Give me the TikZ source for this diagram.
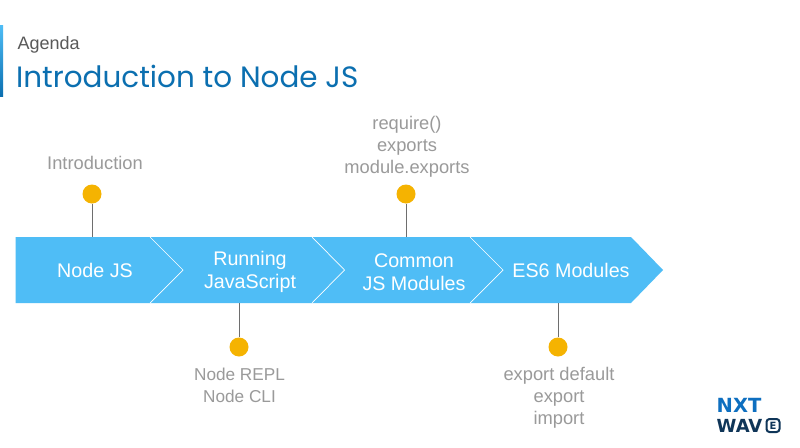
\documentclass[tikz,border=0pt]{standalone}
\usepackage{fontspec}
\setmainfont{Liberation Sans}
\newfontfamily\titlefont{Poppins}
\newfontfamily\logofont{DejaVu Sans}
\definecolor{barblue}{HTML}{4FBDF6}
\definecolor{pin}{HTML}{F5B301}
\definecolor{stem}{HTML}{6E6E6E}
\definecolor{greytext}{HTML}{9A9A9A}
\definecolor{titleblue}{HTML}{0B6FB0}
\definecolor{navy}{HTML}{0F3558}
\definecolor{logoblue}{HTML}{0E6FC0}
\tikzset{
  x=1pt,y=-1pt,
  pindot/.style={circle,fill=pin,minimum size=19pt,inner sep=0pt},
  stemline/.style={draw=stem,line width=1pt},
  steplabel/.style={text=white,font=\fontsize{19.7}{23.5}\selectfont,align=center,inner sep=0pt},
  notelabel/.style={text=greytext,font=\fontsize{18.3}{22}\selectfont,align=center,inner sep=0pt},
  chev/.style={draw=white,line width=0.7pt},
}
\begin{document}
\begin{tikzpicture}
\useasboundingbox (0,0) rectangle (800,447);
\fill[white] (0,0) rectangle (800,447);
\shade[top color=barblue,bottom color=titleblue] (0,25) rectangle (3,96);
\node[anchor=base west,inner sep=0pt,text=black!65,font=\fontsize{18}{20}\selectfont] (agenda) at (17.5,49) {Agenda};
\node[anchor=base west,inner sep=0pt,text=titleblue,font=\titlefont\fontsize{29.4}{32}\selectfont] (title) at (16,87) {Introduction to Node JS};
% arrow bar
\fill[barblue] (15.5,237) -- (631,237) -- (663,270) -- (631,303) -- (15.5,303) -- cycle;
\draw[chev] (150,237) -- (183,270) -- (150,303);
\draw[chev] (312,237) -- (344.5,270) -- (312,303);
\draw[chev] (470,237) -- (503,270) -- (470,303);
\coordinate (t1) at (92,237);
\coordinate (b2) at (239,303);
\coordinate (t3) at (406,237);
\coordinate (b4) at (558,303);
\node[steplabel] (s1) at (95,270) {Node JS};
\node[steplabel] (s2) at (250,272) {Running\\JavaScript};
\node[steplabel] (s3) at (414,272) {Common\\JS Modules};
\node[steplabel] (s4) at (571,270) {ES6 Modules};
% pins
\node[pindot] (p1) at (92,194) {};
\node[pindot] (p2) at (239,347) {};
\node[pindot] (p3) at (406,194) {};
\node[pindot] (p4) at (558,347) {};
\draw[stemline] (p1) -- (t1);
\draw[stemline] (p2) -- (b2);
\draw[stemline] (p3) -- (t3);
\draw[stemline] (p4) -- (b4);
% notes
\node[notelabel] (n1) at (95,163) {Introduction};
\node[notelabel] (n3) at (407,146.5) {require()\\exports\\module.exports};
\node[notelabel,font=\fontsize{17.2}{22}\selectfont] (n2) at (239.5,385.5) {Node REPL\\Node CLI};
\node[notelabel] (n4) at (559,398) {export default\\export\\import};
% logo
\node[anchor=base west,inner sep=0pt,text=logoblue,font=\logofont\fontsize{19.5}{20}\bfseries\selectfont] (nxt) at (716.5,412) {NXT};
\node[anchor=base west,inner sep=0pt,text=navy,font=\logofont\fontsize{18}{20}\bfseries\selectfont] (wav) at (716.5,432.5) {WAV};
\node[draw=navy,line width=2pt,rounded corners=3pt,inner sep=0pt,minimum width=13pt,minimum height=13pt,text=navy,font=\logofont\fontsize{10}{10}\bfseries\selectfont] (ebox) at (773,425.5) {E};
\end{tikzpicture}
\end{document}
